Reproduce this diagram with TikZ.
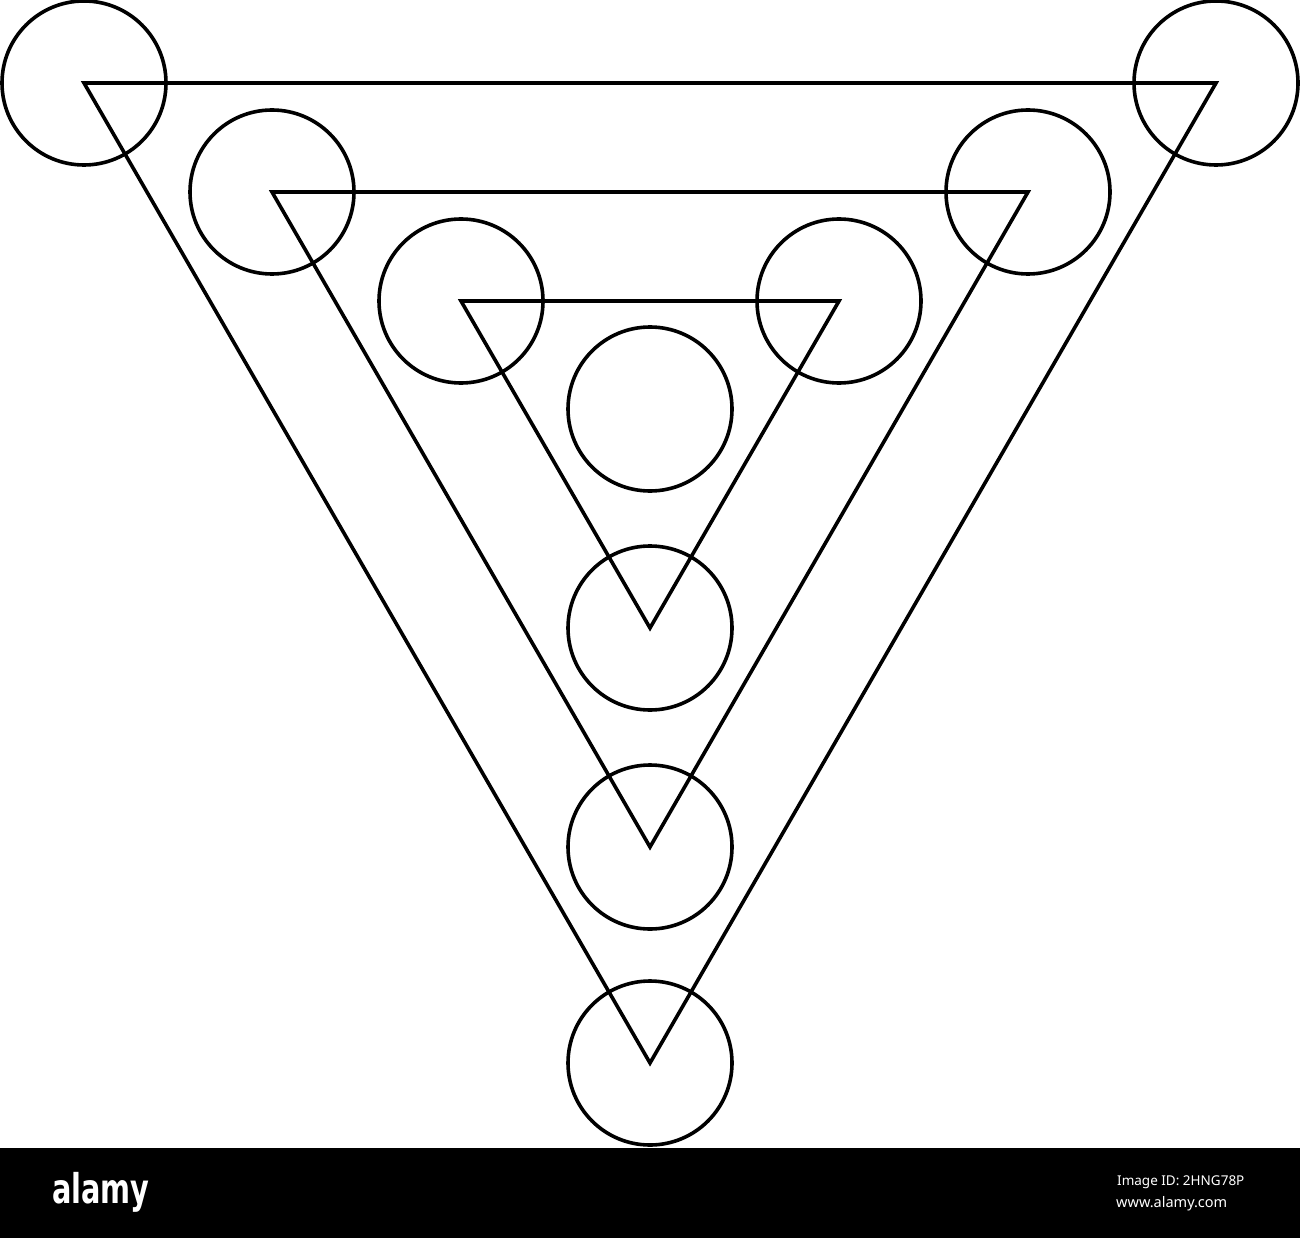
\documentclass[tikz,border=0pt]{standalone}
\usepackage{fontspec}
\newfontfamily\condbold{DejaVu Sans Condensed Bold}
\newfontfamily\wmfont{Noto Sans}
\begin{document}
\begin{tikzpicture}[x=1pt,y=-1pt,
  ring/.style={circle,draw=black,line width=3.6pt,minimum size=164pt,inner sep=0pt},
  tri/.style={draw=black,line width=3.6pt,line join=miter},
  wm/.style={text=white,inner sep=0pt}]
\useasboundingbox (0,0) rectangle (1300,1238);
\fill[white] (0,0) rectangle (1300,1238);
% outer triangle circles
\node[ring] (o1) at (84,83) {};
\node[ring] (o2) at (1216,83) {};
\node[ring] (o3) at (650,1063) {};
% middle
\node[ring] (m1) at (272,192) {};
\node[ring] (m2) at (1028,192) {};
\node[ring] (m3) at (650,847) {};
% inner
\node[ring] (i1) at (461,301) {};
\node[ring] (i2) at (839,301) {};
\node[ring] (i3) at (650,628) {};
% centre
\node[ring] (cc) at (650,409) {};
\draw[tri] (o1.center) -- (o2.center) -- (o3.center) -- cycle;
\draw[tri] (m1.center) -- (m2.center) -- (m3.center) -- cycle;
\draw[tri] (i1.center) -- (i2.center) -- (i3.center) -- cycle;
% watermark bar
\fill[black] (0,1148) rectangle (1300,1238);
\node[wm,anchor=base west,xscale=0.78] (logo) at (52,1203) {\fontsize{41}{41}\condbold alamy};
\node[wm,anchor=base west] (imgid) at (1117,1185) {\fontsize{13.5}{13.5}\wmfont Image ID: 2HNG78P};
\node[wm,anchor=base west] (web) at (1116,1207) {\fontsize{14.5}{14.5}\wmfont\bfseries www.alamy.com};
\end{tikzpicture}
\end{document}
